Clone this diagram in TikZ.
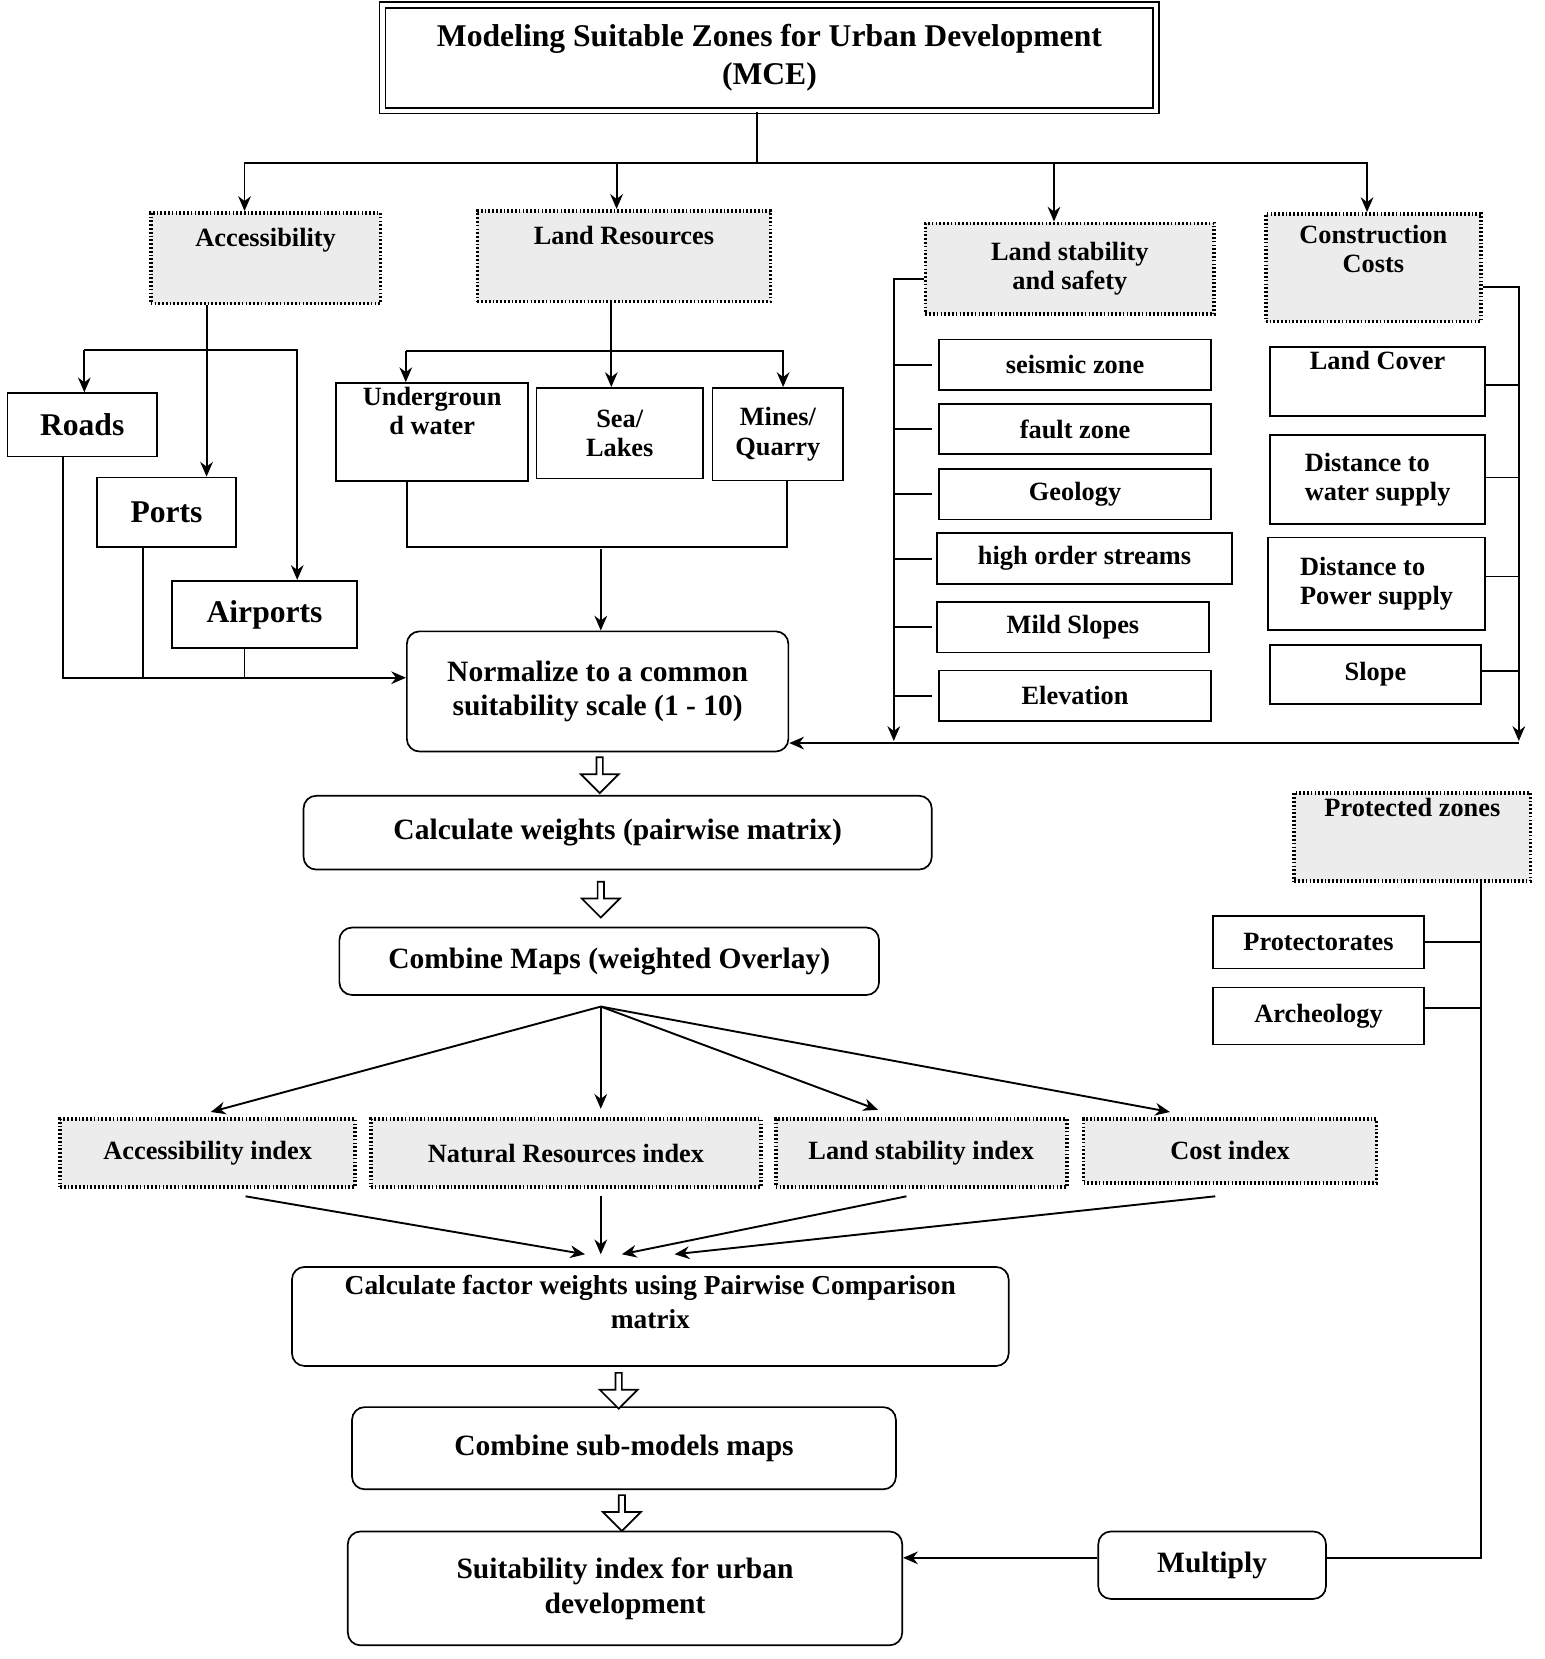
\documentclass[tikz,border=0pt]{standalone}
\usepackage{fontspec}
\setmainfont{Liberation Serif}
\usetikzlibrary{positioning, shapes.arrows, arrows.meta}

\tikzset{
  box/.style={draw, thick, font=\bfseries\fontsize{12.5}{14}\selectfont, align=center, inner sep=2pt},
  dotbox/.style={box, densely dotted, line width=1.8pt, fill=gray!15},
  stepbox/.style={box, rounded corners=6pt, font=\bfseries\fontsize{14}{16.5}\selectfont},
  hollow/.style={single arrow, draw, thick, fill=white, rotate=-90, minimum height=17pt,
    minimum width=18pt, single arrow head extend=2pt, inner sep=0pt},
  >={Stealth[length=7pt,width=6pt]}
}

\begin{document}
\begin{tikzpicture}[x=0.5pt, y=-0.5pt, line width=0.9pt]
  \useasboundingbox (0,0) rectangle (1465,1574);
  % top level
  \node[box, double, double distance=2pt, minimum width=367pt, minimum height=50pt,
    font=\bfseries\fontsize{15}{18}\selectfont] (mce) at (730,55)
    {Modeling Suitable Zones for Urban Development\\(MCE)};
  \node[dotbox, minimum width=109pt, minimum height=43pt] (acc) at (252,245) {Accessibility\\[6pt]};
  \node[dotbox, minimum width=139pt, minimum height=43pt] (land) at (592,243) {Land Resources\\[6pt]};
  \node[dotbox, minimum width=137pt, minimum height=43pt] (stab) at (1015,255) {Land stability\\and safety};
  \node[dotbox, minimum width=102pt, minimum height=51pt] (cost) at (1303,254) {Construction\\Costs\\[4pt]};
  % accessibility factors
  \node[box, minimum width=71pt, minimum height=30pt, font=\bfseries\fontsize{15}{17}\selectfont] (roads) at (78,403) {Roads};
  \node[box, minimum width=66pt, minimum height=33pt, font=\bfseries\fontsize{15}{17}\selectfont] (ports) at (158,486) {Ports};
  \node[box, minimum width=88pt, minimum height=32pt, font=\bfseries\fontsize{15}{17}\selectfont] (airp) at (251,583) {Airports};
  % land resources factors
  \node[box, minimum width=91pt, minimum height=44pt] (water) at (410,410) {Undergroun\\d water\\[6pt]};
  \node[box, minimum width=79pt, minimum height=43pt] (sea) at (588,411) {Sea/\\Lakes};
  \node[box, minimum width=62pt, minimum height=44pt] (mines) at (738,412) {Mines/\\Quarry};
  % stability factors
  \node[box, minimum width=129pt, minimum height=24pt] (seis) at (1020,346) {seismic zone};
  \node[box, minimum width=129pt, minimum height=24pt] (fault) at (1020,407) {fault zone};
  \node[box, minimum width=129pt, minimum height=24pt] (geol) at (1020,469) {Geology};
  \node[box, minimum width=140pt, minimum height=24pt] (strm) at (1029,530) {high order streams};
  \node[box, minimum width=129pt, minimum height=24pt] (mild) at (1018,595) {Mild Slopes};
  \node[box, minimum width=129pt, minimum height=24pt] (elev) at (1020,660) {Elevation};
  % cost factors
  \node[box, minimum width=102pt, minimum height=31pt, align=left] (cover) at (1307,362) {Land Cover\\[6pt]};
  \node[box, minimum width=102pt, minimum height=42pt, align=left] (dwat) at (1307,455) {Distance to\\water supply};
  \node[box, minimum width=103pt, minimum height=44pt, align=left] (dpow) at (1306,554) {Distance to\\Power supply};
  \node[box, minimum width=100pt, minimum height=28pt] (slope) at (1305,640) {Slope};
  % process
  \node[stepbox, minimum width=181pt, minimum height=57pt] (norm) at (567,656) {Normalize to a common\\suitability scale (1 - 10)};
  \node[stepbox, minimum width=298pt, minimum height=35pt] (calw) at (586,790) {Calculate weights (pairwise matrix)};
  \node[stepbox, minimum width=256pt, minimum height=32pt] (comb) at (578,912) {Combine Maps (weighted Overlay)};
  % protected zones
  \node[dotbox, minimum width=112pt, minimum height=42pt] (prot) at (1340,794) {Protected zones\\[14pt]};
  \node[box, minimum width=100pt, minimum height=25pt] (protec) at (1251,894) {Protectorates};
  \node[box, minimum width=100pt, minimum height=27pt] (arch) at (1251,964) {Archeology};
  % indices
  \node[dotbox, minimum width=140pt, minimum height=32pt] (iacc) at (197,1094) {Accessibility index};
  \node[dotbox, minimum width=185pt, minimum height=32pt] (inat) at (537,1094) {Natural Resources index};
  \node[dotbox, minimum width=138pt, minimum height=32pt] (istab) at (874,1094) {Land stability index};
  \node[dotbox, minimum width=139pt, minimum height=30pt] (icost) at (1167,1092) {Cost index};
  % final steps
  \node[stepbox, minimum width=340pt, minimum height=47pt, font=\bfseries\fontsize{13}{16}\selectfont] (fact) at (617,1249)
    {Calculate factor weights using Pairwise Comparison\\matrix\\[-2pt]};
  \node[stepbox, minimum width=258pt, minimum height=39pt] (sub) at (592,1374) {Combine sub-models maps};
  \node[stepbox, minimum width=263pt, minimum height=54pt] (suit) at (593,1507) {Suitability index for urban\\development};
  \node[stepbox, minimum width=108pt, minimum height=32pt] (mult) at (1150,1485) {Multiply};
  % hollow arrows
  \node[hollow] (h1) at (569,734) {};
  \node[hollow] (h2) at (570,852) {};
  \node[hollow] (h3) at (587,1318) {};
  \node[hollow] (h4) at (590,1434) {};

  % connectors from title
  \coordinate (t) at (718,155);
  \draw[->] (mce.south -| t) -- (t) -| (acc.north -| 232,0);
  \draw[->] (t) -| (land.north -| 585,0);
  \draw[->] (t) -| (stab.north -| 1000,0);
  \draw[->] (t) -| (cost.north -| 1297,0);
  % accessibility
  \draw[->] (acc.south -| 196,0) -- (ports.north -| 196,0);
  \draw[->] (80,332) coordinate (a1) -- (roads.north -| a1);
  \draw[->] (a1) -- (282,332) coordinate (a2) -- (airp.north -| a2);
  \coordinate (n1) at (60,643);
  \draw[->] (roads.south -| n1) -- (n1) -- (norm.west |- n1);
  \draw (ports.south -| 136,0) -- (136,643);
  \draw (airp.south -| 232,0) -- (232,643);
  % land resources
  \draw (land.south -| 580,0) -- (580,333) coordinate (l1);
  \draw[->] (385,333) coordinate (l0) -- (water.north -| l0);
  \draw[->] (l1) -- (sea.north -| l1);
  \draw[->] (l0) -- (743,333) coordinate (l2) -- (mines.north -| l2);
  \draw (water.south -| 386,0) -- (386,519) -- (747,519) -- (mines.south -| 747,0);
  \draw[->] (570,521) -- (norm.north -| 570,0);
  % stability
  \coordinate (s1) at (848,265);
  \draw[->] (stab.west |- s1) -- (s1) -- (848,703);
  \foreach \n in {seis,fault,geol,strm,mild,elev}
    \draw (848,0 |- \n.west) -- ++(36,0);
  % costs
  \coordinate (c1) at (1441,272);
  \draw[->] (cost.east |- c1) -- (c1) -- (1441,703);
  \foreach \n/\y in {cover/365,dwat/453,dpow/547,slope/637}
    \draw (\n.east |- 0,\y) -- (1441,\y);
  \draw[->] (1441,705) -- (norm.east |- 0,705);
  % combine to indices
  \coordinate (o) at (570,955);
  \draw[->] (o) -- (200,1055);
  \draw[->] (o) -- (570,1052);
  \draw[->] (o) -- (833,1053);
  \draw[->] (o) -- (1110,1055);
  % indices to factor weights
  \draw[->] (233,1135) -- (555,1190);
  \draw[->] (570,1135) -- (570,1190);
  \draw[->] (860,1135) -- (590,1190);
  \draw[->] (1153,1135) -- (640,1190);
  % protected zones
  \coordinate (p1) at (1405,1478);
  \draw (prot.south -| p1) -- (p1) -- (mult.east |- p1);
  \draw (protec.east) -- (protec.east -| p1);
  \draw (arch.east |- 0,956) -- (1405,956);
  \draw[->] (mult.west |- p1) -- (suit.east |- p1);
\end{tikzpicture}
\end{document}
